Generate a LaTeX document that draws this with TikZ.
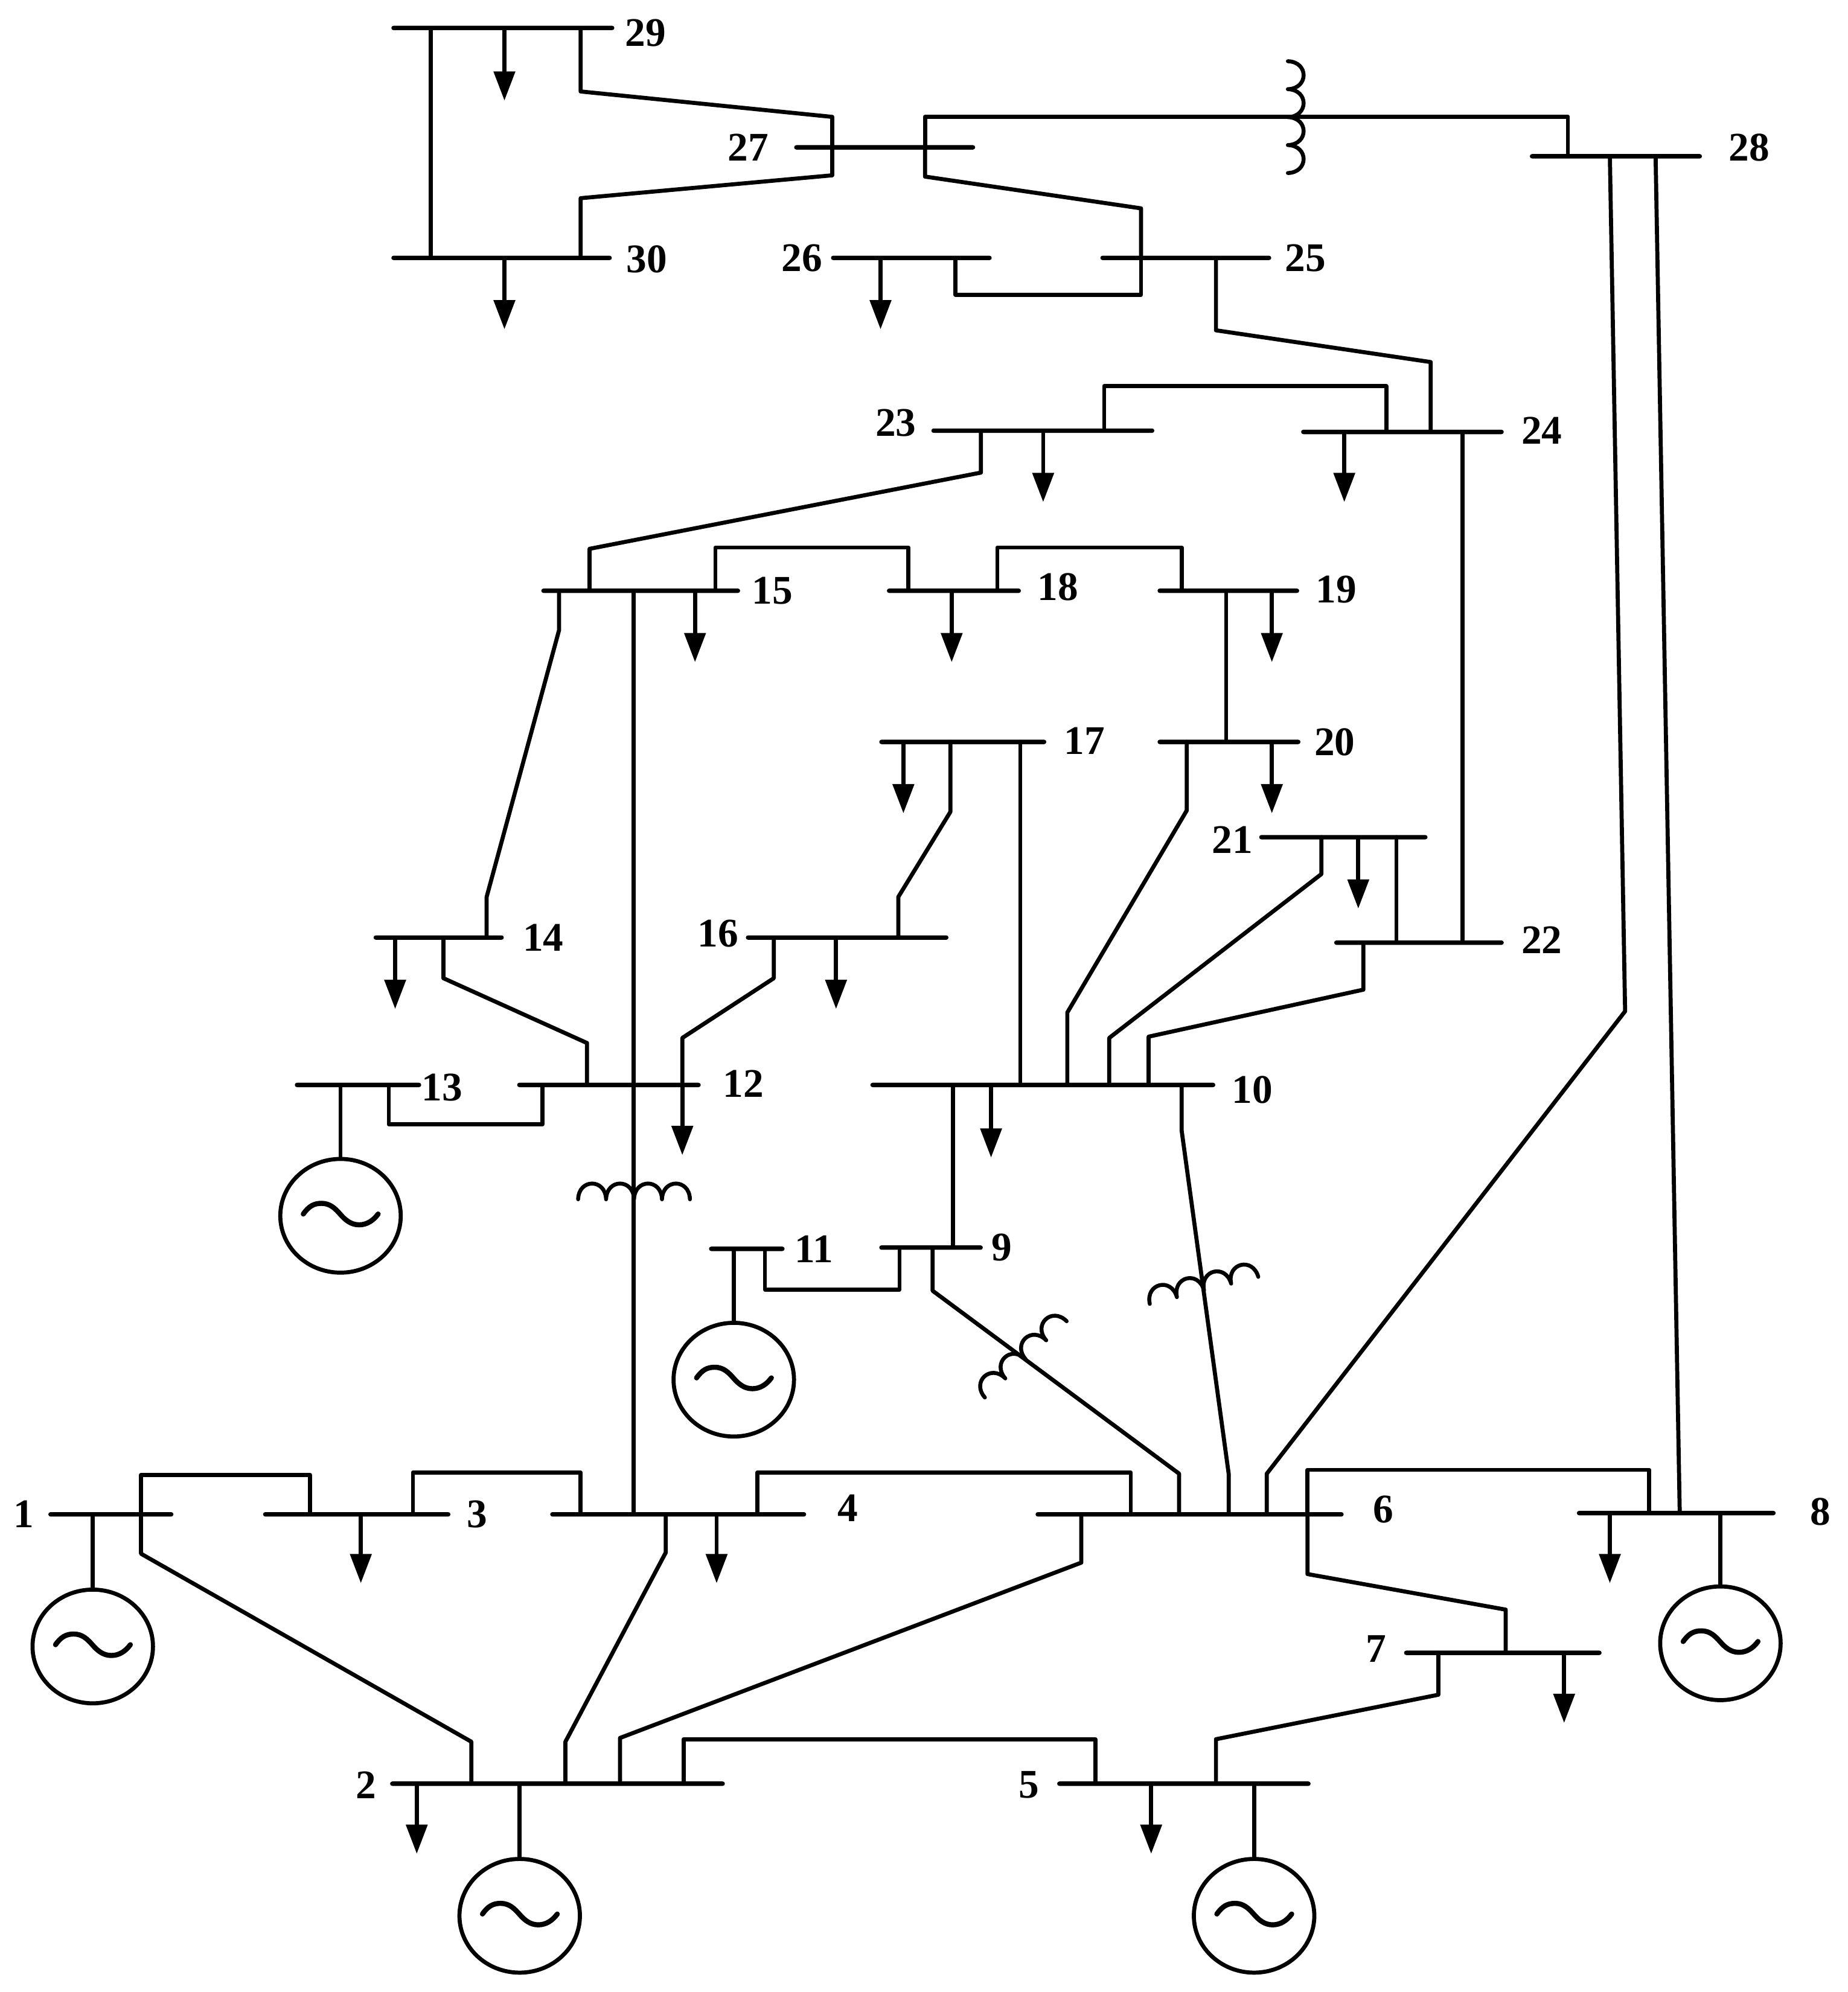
\documentclass[tikz,border=0pt]{standalone}
\usepackage{fontspec}
\setmainfont{Liberation Serif}
\usetikzlibrary{arrows.meta,shapes.misc,shapes.geometric}
\tikzset{
  link/.style={line width=3.2pt,line join=round,line cap=round},
  load/.style={line width=3.2pt,shorten >=-1.2pt,-{Triangle[length=23pt,width=16.5pt]}},
  bar/.style={rounded rectangle,fill=black,draw=none,inner sep=0pt,minimum height=3.5pt},
  num/.style={font=\fontsize{32}{38}\bfseries\selectfont,inner sep=0pt},
  gen/.style={ellipse,draw,line width=3.2pt,minimum width=94.8pt,minimum height=89.5pt,inner sep=0pt},
  sine/.style={line width=4pt,line cap=round},
  coil/.style={line width=3.1pt,line cap=round,line join=round}
}
\newcommand\busbar[6]{%
  \node[bar,minimum width={(#3-#2+1.5)*1pt}] (b#1) at ({(#2+#3)/2+0.75},#4) {};
  \node[num] (l#1) at (#5,#6) {#1};}
\newcommand\genset[4]{%
  \node[gen] (g#1) at (#2,#3) {};
  \draw[link] (g#1.north |- b#4) -- (g#1.north);
  \begin{scope}[shift={(#2,#3)}]
    \draw[sine] (-29.3,-1.4) .. controls (-25,-7.5) and (-21,-9.8) .. (-15,-9.8)
      .. controls (-8,-9.8) and (-4,-5.5) .. (0,-1)
      .. controls (3.5,3) and (8,7.1) .. (14.6,7.1)
      .. controls (21,7.1) and (26,3.5) .. (29.6,-1.4);
  \end{scope}}
\newcommand\coilat[3]{%
  \begin{scope}[shift={(#1,#2)},rotate=#3]
    \draw[coil] (-44,0) .. controls (-43.5,-16.5) and (-22.5,-16.5) .. (-22,0)
      .. controls (-21.5,-16.5) and (-0.5,-16.5) .. (0,0)
      .. controls (0.5,-16.5) and (21.5,-16.5) .. (22,0)
      .. controls (22.5,-16.5) and (43.5,-16.5) .. (44,0);
  \end{scope}}
\begin{document}
\begin{tikzpicture}[x=1pt,y=-1pt]
\useasboundingbox (0,0) rectangle (1454,1568);
% buses
\busbar{1}{38}{135}{1192}{18.5}{1192}
\busbar{3}{207}{353}{1192}{375.5}{1192}
\busbar{4}{433}{633}{1192}{667.5}{1187}
\busbar{6}{815}{1056}{1192}{1088.5}{1188}
\busbar{8}{1241}{1396}{1191}{1432.5}{1190}
\busbar{2}{307}{569}{1404}{288}{1405}
\busbar{5}{832}{1030}{1404}{810}{1405}
\busbar{7}{1105}{1259}{1301}{1083}{1298}
\busbar{13}{232}{330}{854}{348}{856}
\busbar{12}{407}{550}{854}{585}{853}
\busbar{10}{685}{955}{854}{985.5}{858}
\busbar{9}{692}{772}{982}{788.5}{982}
\busbar{11}{558}{616}{983}{640.5}{983}
\busbar{14}{294}{395}{738}{427.5}{738}
\busbar{16}{587}{745}{738}{565}{735}
\busbar{17}{692}{822}{584}{853.5}{583}
\busbar{20}{911}{1022}{584}{1050.5}{584}
\busbar{21}{991}{1122}{659}{970}{661}
\busbar{22}{1050}{1182}{742}{1213.5}{740}
\busbar{15}{426}{581}{465}{608}{465}
\busbar{18}{698}{802}{465}{832.5}{462}
\busbar{19}{911}{1021}{465}{1051.5}{464}
\busbar{23}{733}{907}{339}{705}{333}
\busbar{24}{1024}{1182}{340}{1213.5}{339}
\busbar{25}{866}{999}{203}{1027.5}{203}
\busbar{26}{654}{779}{203}{631}{203}
\busbar{27}{625}{766}{116}{589}{116}
\busbar{28}{1204}{1338}{123}{1376.5}{116}
\busbar{29}{308}{482}{22}{508}{26}
\busbar{30}{308}{480}{203}{509}{204}
% generators
\genset{1}{73}{1296}{1}
\genset{2}{409}{1508}{2}
\genset{5}{987}{1508}{5}
\genset{8}{1354}{1293.5}{8}
\genset{13}{268}{957}{13}
\genset{11}{577.5}{1086}{11}
% lines
\draw[link] (339,0 |- b29) -- (339,0 |- b30);
\draw[link] (457,0 |- b29) -- (457,72) -- (655,92) -- (655,0 |- b27);
\draw[link] (457,0 |- b30) -- (457,156) -- (655,138) -- (655,0 |- b27);
\draw[link] (728,0 |- b27) -- (728,92) -- (1234,92) -- (1234,0 |- b28);
\draw[link] (728,0 |- b27) -- (728,139) -- (898,164) -- (898,0 |- b25);
\draw[link] (752,0 |- b26) -- (752,232) -- (898,232) -- (898,0 |- b25);
\draw[link] (957,0 |- b25) -- (957,260) -- (1126,285) -- (1126,0 |- b24);
\draw[link] (869,0 |- b23) -- (869,304) -- (1091,304) -- (1091,0 |- b24);
\draw[link] (1151,0 |- b24) -- (1151,0 |- b22);
\draw[link] (772,0 |- b23) -- (772,372) -- (464,432) -- (464,0 |- b15);
\draw[link] (563,0 |- b15) -- (563,431) -- (715,431) -- (715,0 |- b18);
\draw[link] (785,0 |- b18) -- (785,431) -- (930,431) -- (930,0 |- b19);
\draw[link] (965,0 |- b19) -- (965,0 |- b20);
\draw[link] (803,0 |- b17) -- (803,0 |- b10);
\draw[link] (748,0 |- b17) -- (748,639) -- (707,706) -- (707,0 |- b16);
\draw[link] (934,0 |- b20) -- (934,638) -- (840,797) -- (840,0 |- b10);
\draw[link] (1040,0 |- b21) -- (1040,688) -- (873,817) -- (873,0 |- b10);
\draw[link] (1099,0 |- b21) -- (1099,0 |- b22);
\draw[link] (1073,0 |- b22) -- (1073,779) -- (904,816) -- (904,0 |- b10);
\draw[link] (750,0 |- b10) -- (750,0 |- b9);
\draw[link] (930,0 |- b10) -- (930,890) -- (967,1160) -- (967,0 |- b6);
\draw[link] (602,0 |- b11) -- (602,1015) -- (708,1015) -- (708,0 |- b9);
\draw[link] (734,0 |- b9) -- (734,1016) -- (928,1160) -- (928,0 |- b6);
\draw[link] (1267,0 |- b28) -- (1279,796) -- (997,1160) -- (997,0 |- b6);
\draw[link] (1303,0 |- b28) -- (1322,0 |- b8);
\draw[link] (1029,0 |- b6) -- (1029,1157) -- (1298,1157) -- (1298,0 |- b8);
\draw[link] (1029,0 |- b6) -- (1029,1239) -- (1185,1267) -- (1185,0 |- b7);
\draw[link] (1132,0 |- b7) -- (1132,1334) -- (957,1369) -- (957,0 |- b5);
\draw[link] (538,0 |- b2) -- (538,1369) -- (862,1369) -- (862,0 |- b5);
\draw[link] (488,0 |- b2) -- (488,1368) -- (851,1230) -- (851,0 |- b6);
\draw[link] (445,0 |- b2) -- (445,1371) -- (524,1222) -- (524,0 |- b4);
\draw[link] (371,0 |- b2) -- (371,1371) -- (111,1223) -- (111,0 |- b1);
\draw[link] (111,0 |- b1) -- (111,1161) -- (244,1161) -- (244,0 |- b3);
\draw[link] (325,0 |- b3) -- (325,1159) -- (457,1159) -- (457,0 |- b4);
\draw[link] (596,0 |- b4) -- (596,1159) -- (890,1159) -- (890,0 |- b6);
\draw[link] (498.5,0 |- b15) -- (498.5,0 |- b4);
\draw[link] (440,0 |- b15) -- (440,496) -- (383,706) -- (383,0 |- b14);
\draw[link] (349,0 |- b14) -- (349,770) -- (462,821) -- (462,0 |- b12);
\draw[link] (306,0 |- b13) -- (306,885) -- (427,885) -- (427,0 |- b12);
\draw[link] (609,0 |- b16) -- (609,770) -- (537,817) -- (537,0 |- b12);
% loads
\coordinate (t29) at (397,78);   \draw[load] (397,0 |- b29) -- (t29);
\coordinate (t30) at (397,258);  \draw[load] (397,0 |- b30) -- (t30);
\coordinate (t26) at (693,258);  \draw[load] (693,0 |- b26) -- (t26);
\coordinate (t23) at (821,394);  \draw[load] (821,0 |- b23) -- (t23);
\coordinate (t24) at (1058,394); \draw[load] (1058,0 |- b24) -- (t24);
\coordinate (t15) at (547,520);  \draw[load] (547,0 |- b15) -- (t15);
\coordinate (t18) at (749,520);  \draw[load] (749,0 |- b18) -- (t18);
\coordinate (t19) at (1001,520); \draw[load] (1001,0 |- b19) -- (t19);
\coordinate (t20) at (1001,639); \draw[load] (1001,0 |- b20) -- (t20);
\coordinate (t17) at (711,639);  \draw[load] (711,0 |- b17) -- (t17);
\coordinate (t21) at (1069,714); \draw[load] (1069,0 |- b21) -- (t21);
\coordinate (t10) at (780,910);  \draw[load] (780,0 |- b10) -- (t10);
\coordinate (t8) at (1267,1245); \draw[load] (1267,0 |- b8) -- (t8);
\coordinate (t7) at (1231,1355); \draw[load] (1231,0 |- b7) -- (t7);
\coordinate (t5) at (906,1458);  \draw[load] (906,0 |- b5) -- (t5);
\coordinate (t2) at (328,1458);  \draw[load] (328,0 |- b2) -- (t2);
\coordinate (t3) at (284,1245);  \draw[load] (284,0 |- b3) -- (t3);
\coordinate (t4) at (564,1245);  \draw[load] (564,0 |- b4) -- (t4);
\coordinate (t14) at (311,793);  \draw[load] (311,0 |- b14) -- (t14);
\coordinate (t16) at (658,793);  \draw[load] (658,0 |- b16) -- (t16);
\coordinate (t12) at (537,908);  \draw[load] (537,0 |- b12) -- (t12);
% transformers
\coilat{1013.6}{92.2}{-90}
\coilat{499}{944}{0}
\coilat{947.6}{1015.7}{14}
\coilat{807.3}{1070}{43}
\end{tikzpicture}
\end{document}
